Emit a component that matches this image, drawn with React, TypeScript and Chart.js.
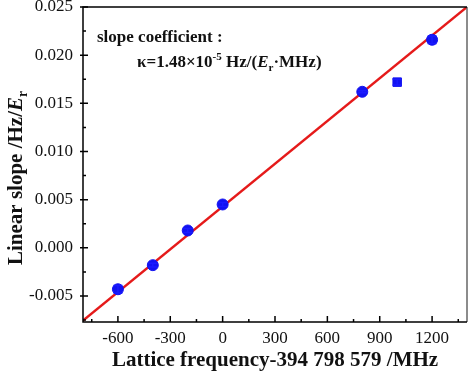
import React, { useEffect, useRef } from "react";
import { Chart, registerables } from "chart.js";

Chart.register(...registerables);

const xValues = [-600, -400, -200, 0, 800, 1000, 1200];
const yValues = [-0.0043, -0.0018, 0.0018, 0.0045, 0.0162, 0.0172, 0.0216];
const yErrors = [0.0004, 0.0002, 0.0002, 0.0002, 0.0001, 0.0003, 0.0004];
const pointStyles = ["circle", "circle", "circle", "circle", "circle", "rect", "circle"];
const fitX = [-800, 1400];
const fitY = [-0.00756, 0.025];
const xTicks = [-600, -300, 0, 300, 600, 900, 1200];
const xMinorTicks = [-750, -450, -150, 150, 450, 750, 1050, 1350];
const yTicks = [-0.005, 0, 0.005, 0.01, 0.015, 0.02, 0.025];
const yMinorTicks = [-0.0075, -0.0025, 0.0025, 0.0075, 0.0125, 0.0175, 0.0225];

const FONT = "'Liberation Serif', 'Times New Roman', serif";

type Run = { t: string; italic?: boolean; sub?: boolean; sup?: boolean };

function runsWidth(ctx: CanvasRenderingContext2D, runs: Run[], size: number) {
  let w = 0;
  for (const r of runs) {
    const s = r.sub || r.sup ? size * 0.65 : size;
    ctx.font = `${r.italic ? "italic " : ""}bold ${s}px ${FONT}`;
    w += ctx.measureText(r.t).width;
  }
  return w;
}

function drawRuns(ctx: CanvasRenderingContext2D, runs: Run[], x: number, y: number, size: number) {
  let cx = x;
  ctx.textBaseline = "alphabetic";
  ctx.textAlign = "left";
  for (const r of runs) {
    const s = r.sub || r.sup ? size * 0.65 : size;
    ctx.font = `${r.italic ? "italic " : ""}bold ${s}px ${FONT}`;
    const dy = r.sub ? size * 0.25 : r.sup ? -size * 0.4 : 0;
    ctx.fillText(r.t, cx, y + dy);
    cx += ctx.measureText(r.t).width;
  }
}

const decorPlugin = {
  id: "decor",
  afterDatasetsDraw(chart: any) {
    const { ctx, scales } = chart;
    const xs = scales.x;
    const ys = scales.y;
    ctx.save();
    ctx.strokeStyle = "#1a1aff";
    ctx.lineWidth = 1.5;
    xValues.forEach((xv, i) => {
      const px = xs.getPixelForValue(xv);
      const top = ys.getPixelForValue(yValues[i] + yErrors[i]);
      const bot = ys.getPixelForValue(yValues[i] - yErrors[i]);
      ctx.beginPath();
      ctx.moveTo(px, top);
      ctx.lineTo(px, bot);
      ctx.moveTo(px - 4.5, top);
      ctx.lineTo(px + 4.5, top);
      ctx.moveTo(px - 4.5, bot);
      ctx.lineTo(px + 4.5, bot);
      ctx.stroke();
    });
    ctx.restore();
  },
  afterDraw(chart: any) {
    const { ctx, chartArea, scales } = chart;
    const xs = scales.x;
    const ys = scales.y;
    const { left, right, top, bottom } = chartArea;
    ctx.save();
    // frame
    ctx.lineWidth = 1.5;
    ctx.strokeStyle = "#666";
    ctx.beginPath();
    ctx.moveTo(right, top);
    ctx.lineTo(right, bottom);
    ctx.stroke();
    ctx.strokeStyle = "#000";
    ctx.beginPath();
    ctx.moveTo(right, top);
    ctx.lineTo(left, top);
    ctx.lineTo(left, bottom);
    ctx.lineTo(right, bottom);
    ctx.stroke();
    // ticks
    ctx.beginPath();
    xTicks.forEach((v) => {
      const p = xs.getPixelForValue(v);
      ctx.moveTo(p, bottom);
      ctx.lineTo(p, bottom - 6);
    });
    xMinorTicks.forEach((v) => {
      const p = xs.getPixelForValue(v);
      ctx.moveTo(p, bottom);
      ctx.lineTo(p, bottom - 3);
    });
    yTicks.forEach((v) => {
      const p = ys.getPixelForValue(v);
      ctx.moveTo(left - 3, p);
      ctx.lineTo(left + 5, p);
    });
    yMinorTicks.forEach((v) => {
      const p = ys.getPixelForValue(v);
      ctx.moveTo(left, p);
      ctx.lineTo(left + 3, p);
    });
    ctx.stroke();

    ctx.fillStyle = "#111";
    // annotation
    drawRuns(ctx, [{ t: "slope coefficient :" }], left + 14, 42, 17);
    drawRuns(
      ctx,
      [
        { t: "κ=1.48×10" },
        { t: "-5", sup: true },
        { t: " Hz/(" },
        { t: "E", italic: true },
        { t: "r", sub: true },
        { t: "·MHz)" },
      ],
      left + 54,
      67,
      17
    );

    // x title
    const xt: Run[] = [{ t: "Lattice frequency-394 798 579 /MHz" }];
    const xw = runsWidth(ctx, xt, 21);
    drawRuns(ctx, xt, (left + right) / 2 - xw / 2, 366, 21);

    // y title
    const yt: Run[] = [{ t: "Linear slope /Hz/" }, { t: "E", italic: true }, { t: "r", sub: true }];
    const yw = runsWidth(ctx, yt, 21);
    ctx.translate(22, 178);
    ctx.rotate(-Math.PI / 2);
    drawRuns(ctx, yt, -yw / 2, 0, 21);
    ctx.restore();
  },
};

export default function App() {
  const ref = useRef<HTMLCanvasElement>(null);
  useEffect(() => {
    if (!ref.current) return;
    const chart = new Chart(ref.current, {
      type: "scatter",
      data: {
        datasets: [
          {
            type: "line",
            data: fitX.map((x, i) => ({ x, y: fitY[i] })),
            borderColor: "#e51a1a",
            borderWidth: 2.5,
            pointRadius: 0,
            showLine: true,
            fill: false,
            order: 2,
          } as any,
          {
            type: "scatter",
            data: xValues.map((x, i) => ({ x, y: yValues[i] })),
            backgroundColor: "#1212f0",
            borderColor: "#1212f0",
            pointStyle: pointStyles as any,
            pointRadius: [5.5, 5.5, 5.5, 5.5, 5.5, 6, 5.5],
            order: 1,
          } as any,
        ],
      },
      options: {
        animation: false,
        responsive: false,
        maintainAspectRatio: false,
        layout: { padding: { top: 7, right: 2, left: 0, bottom: 0 } },
        plugins: { legend: { display: false }, tooltip: { enabled: false } },
        scales: {
          x: {
            type: "linear",
            min: -800,
            max: 1400,
            grid: { display: false, drawTicks: false },
            border: { display: false },
            afterBuildTicks: (s: any) => {
              s.ticks = xTicks.map((v) => ({ value: v }));
            },
            afterFit: (s: any) => {
              s.height = 56;
              s.paddingLeft = 0;
              s.paddingRight = 0;
            },
            ticks: {
              padding: 6,
              color: "#111",
              font: { family: FONT, size: 17 },
              callback: (v: any) => String(v),
            },
          },
          y: {
            type: "linear",
            min: -0.0077,
            max: 0.025,
            grid: { display: false, drawTicks: false },
            border: { display: false },
            afterBuildTicks: (s: any) => {
              s.ticks = yTicks.map((v) => ({ value: v }));
            },
            afterFit: (s: any) => {
              s.width = 83;
              s.paddingTop = 0;
              s.paddingBottom = 0;
            },
            ticks: {
              padding: 10,
              color: "#111",
              font: { family: FONT, size: 17 },
              callback: (v: any) => Number(v).toFixed(3),
            },
          },
        },
      },
      plugins: [decorPlugin],
    });
    return () => chart.destroy();
  }, []);
  return (
    <div style={{ position: "fixed", left: 0, top: 0, width: 474, height: 378, background: "#fff" }}>
      <canvas ref={ref} width={474} height={378} style={{ width: 474, height: 378 }} />
    </div>
  );
}
